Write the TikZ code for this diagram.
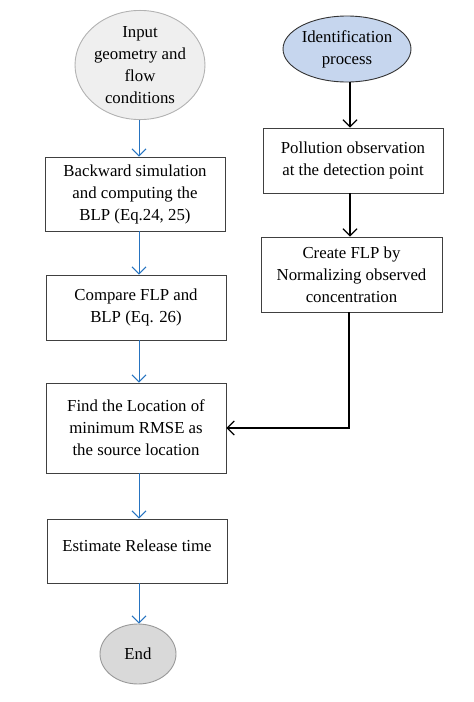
\documentclass[tikz,border=0pt]{standalone}
\usepackage{fontspec}
\setmainfont{Liberation Serif}
\usetikzlibrary{arrows.meta,shapes.geometric}
\definecolor{arrblue}{HTML}{2673C0}
\definecolor{identblue}{HTML}{C6D6EE}
\definecolor{inputgray}{HTML}{EFEFEF}
\definecolor{endgray}{HTML}{D9D9D9}
\begin{document}
\begin{tikzpicture}[x=1pt,y=-1pt,
  every node/.style={font=\fontsize{16.8}{22}\selectfont, align=center},
  stepbox/.style={draw=black!75, line width=0.9pt, rectangle, inner sep=0pt},
  blarrow/.style={draw=arrblue, line width=1pt, -{Straight Barb[length=7pt,width=14pt]}},
  bkarrow/.style={draw=black, line width=1.2pt, -{Straight Barb[length=7pt,width=14pt]}}]
\useasboundingbox (0,0) rectangle (474,702);
% left column
\node[ellipse, draw=black!30, fill=inputgray, line width=0.9pt, minimum width=120pt, minimum height=106pt, inner sep=0pt] (input) at (140,65) {Input\\geometry and\\flow\\conditions};
\node[stepbox, minimum width=180pt, minimum height=74pt] (back) at (135,194) {Backward simulation\\and computing the\\BLP (Eq.24, 25)};
\node[stepbox, minimum width=180pt, minimum height=65pt] (comp) at (136,307.5) {Compare FLP and\\BLP (Eq. 26)};
\node[stepbox, minimum width=180pt, minimum height=90pt] (find) at (136,428) {Find the Location of\\minimum RMSE as\\the source location};
\node[stepbox, minimum width=180pt, minimum height=64pt] (est) at (137,551) {};
\node (esttext) at (137,546) {Estimate Release time};
\node[ellipse, draw=black!40, fill=endgray, line width=0.9pt, minimum width=76pt, minimum height=60pt, inner sep=0pt] (end) at (138,654) {End};
% right column
\node[ellipse, draw=black!80, fill=identblue, line width=0.9pt, minimum width=115pt, minimum height=66pt, inner sep=0pt] (ident) at (347,49) {Identification\\process};
\node[stepbox, minimum width=180pt, minimum height=65pt] (poll) at (353,160.5) {Pollution observation\\at the detection point};
\node[stepbox, minimum width=181pt, minimum height=75pt] (flp) at (351.5,274.5) {Create FLP by\\Normalizing observed\\concentration};
\coordinate (corner) at (349,428);
% connectors
\draw[blarrow] (input.south -| 139,0) -- (back.north -| 139,0);
\draw[blarrow] (back.south -| 139,0) -- (comp.north -| 139,0);
\draw[blarrow] (comp.south -| 139,0) -- (find.north -| 139,0);
\draw[blarrow] (find.south -| 139,0) -- (est.north -| 139,0);
\draw[blarrow] (est.south -| 139,0) -- (end.north -| 139,0);
\draw[bkarrow] (ident.south -| 350,0) -- (poll.north -| 350,0);
\draw[bkarrow] (poll.south -| 350,0) -- (flp.north -| 350,0);
\draw[bkarrow] (flp.south -| corner) -- (corner) -- (find.east);
\end{tikzpicture}
\end{document}
